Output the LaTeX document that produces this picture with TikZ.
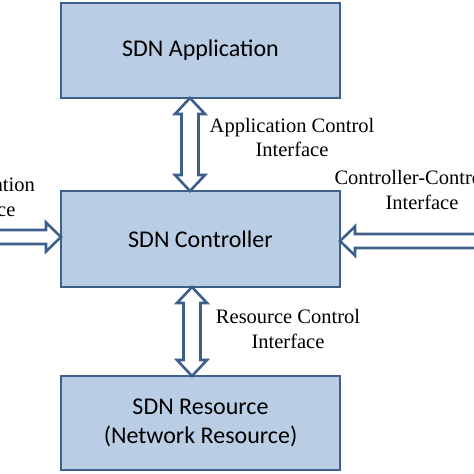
\documentclass[tikz,border=0pt]{standalone}
\usepackage{fontspec}
\setmainfont{Liberation Serif}
\newfontfamily\boxfont{Carlito}
\usetikzlibrary{calc}
\definecolor{edgeblue}{HTML}{3E5F8A}
\definecolor{fillblue}{HTML}{B9CDE5}
\tikzset{
  layerbox/.style={draw=edgeblue, fill=fillblue, line width=2.6pt, rectangle,
    minimum width=279pt, inner sep=0pt, outer sep=0pt, align=center,
    font=\boxfont\fontsize{24}{29}\selectfont, text=black},
  hollow/.style={draw=edgeblue, fill=white, line width=2.6pt, line join=miter},
  iflabel/.style={align=center, inner sep=0pt, font=\fontsize{20.5}{24.5}\selectfont, text=black}
}
\newcommand\vdarrow[2]{%
  \draw[hollow] let \p1=(#1), \p2=(#2) in
    (\p1) -- (\x1+15pt,\y1-16pt) -- (\x1+8.5pt,\y1-16pt) -- (\x1+8.5pt,\y2+16pt)
    -- (\x1+15pt,\y2+16pt) -- (\x1,\y2) -- (\x1-15pt,\y2+16pt) -- (\x1-8.5pt,\y2+16pt)
    -- (\x1-8.5pt,\y1-16pt) -- (\x1-15pt,\y1-16pt) -- cycle;}
\begin{document}
\begin{tikzpicture}[x=1pt,y=-1pt]
\useasboundingbox (0,0) rectangle (474,474);
\clip (0,0) rectangle (474,474);
\fill[white] (0,0) rectangle (474,474);
\node[layerbox, minimum height=95pt] (app) at (200.5,50.5) {SDN Application};
\node[layerbox, minimum height=96pt] (ctrl) at (200.5,239) {SDN Controller};
\node[layerbox, minimum height=94pt] (res) at (200.5,423) {SDN Resource\\(Network Resource)};
% vertical double arrows
\coordinate (a1) at (app.south -| 190,0);
\coordinate (a2) at (ctrl.north -| 190,0);
\vdarrow{a1}{a2}
\coordinate (r1) at (ctrl.south -| 192,0);
\coordinate (r2) at (res.north -| 192,0);
\vdarrow{r1}{r2}
% left arrow
\coordinate (lend) at (-5,237);
\coordinate (ltip) at (ctrl.west |- 0,237);
\draw[hollow] let \p1=(lend), \p2=(ltip) in
  (\p1) -- ++(0,7) -- (\x2-15pt,\y2-7pt) -- (\x2-15pt,\y2-14.5pt) -- (\p2)
  -- (\x2-15pt,\y2+14.5pt) -- (\x2-15pt,\y2+7pt) -- (\x1,\y1+7pt) -- cycle;
% right arrow
\coordinate (rend) at (479,241);
\coordinate (rtip) at (ctrl.east |- 0,241);
\draw[hollow] let \p1=(rend), \p2=(rtip) in
  (\p1) -- ++(0,7) -- (\x2+15pt,\y2-7pt) -- (\x2+15pt,\y2-14.5pt) -- (\p2)
  -- (\x2+15pt,\y2+14.5pt) -- (\x2+15pt,\y2+7pt) -- (\x1,\y1+7pt) -- cycle;
% labels
\node[iflabel] (acl) at (292,137.5) {Application Control\\Interface};
\node[iflabel] (rcl) at (288,329) {Resource Control\\Interface};
\node[iflabel] (ccl) at (422,190) {Controller-Controller\\Interface};
\node[iflabel] (ocl) at (-21,197) {Orchestration\\Interface};
\end{tikzpicture}
\end{document}
